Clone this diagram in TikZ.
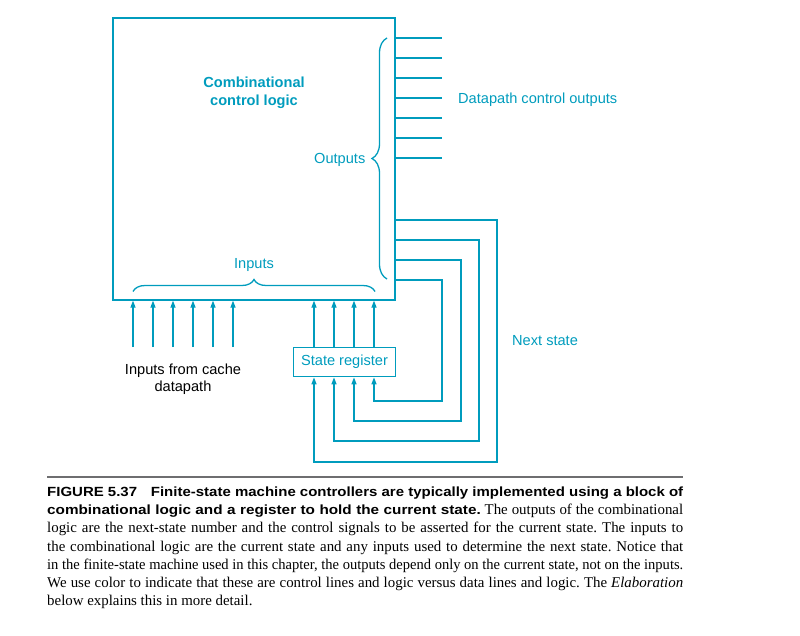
\documentclass[tikz,border=0pt]{standalone}
\usepackage{fontspec}
\usepackage{graphicx}
\setmainfont{Liberation Serif}
\newfontfamily\dsans{Liberation Sans}
\newfontfamily\hdfont[FakeStretch=1.15]{Liberation Sans}
\usetikzlibrary{decorations.pathreplacing,arrows.meta}
\definecolor{ctl}{RGB}{0,156,189}
\definecolor{rulegray}{RGB}{110,110,112}
\frenchspacing
\newsavebox\jlbox
\newcommand\jl[1]{\sbox\jlbox{#1}\ifdim\wd\jlbox>636pt\relax\resizebox{636pt}{\height}{\usebox\jlbox}\else\makebox[636pt][s]{#1}\fi}
\newcommand\hd{\hdfont\bfseries\fontsize{13.3}{16}\selectfont}
\tikzset{
  ln/.style={draw=ctl, line width=1.3pt},
  arr/.style={ln, -{Triangle[length=7pt,width=5pt]}},
  lab/.style={font=\dsans\fontsize{14.6}{17}\selectfont, text=ctl, inner sep=0pt},
  blk/.style={font=\dsans\fontsize{14.6}{17}\selectfont, text=black, inner sep=0pt},
  brc/.style={ln, decorate},
  capline/.style={anchor=base west, inner sep=0pt, font=\fontsize{14.9}{18}\selectfont},
}
\begin{document}
\begin{tikzpicture}[x=1pt,y=-1pt]
\useasboundingbox (0,0) rectangle (800,636);
% main block
\node[ln, minimum width=282pt, minimum height=282pt, inner sep=0pt] (logic) at (254,159) {};
\node[lab, font=\dsans\bfseries\fontsize{14.6}{17}\selectfont, anchor=base] (t1) at (254,88) {Combinational};
\node[lab, font=\dsans\bfseries\fontsize{14.6}{17}\selectfont, anchor=base] (t2) at (254,106) {control logic};
% state register
\node[ln, lab, minimum width=102pt, minimum height=29.4pt] (reg) at (344.5,362) {State register};
% inputs from datapath
\foreach \x [count=\i] in {133,153,173,193,213,233} {
  \coordinate (in\i) at (\x,347);
  \draw[arr] (in\i) -- (in\i |- logic.south);
}
% state register to logic
\foreach \x [count=\i] in {314,334,354,374} {
  \coordinate (c\i) at (\x,0);
  \draw[arr] (c\i |- reg.north) -- (c\i |- logic.south);
}
% next state loops
\foreach \y/\r/\b [count=\i] in {220/497/462, 240/479/441, 260/461/421, 280/442/401} {
  \coordinate (n\i) at (395,\y);
  \draw[arr] (n\i) -| (\r,\b) -| (c\i |- reg.south);
}
% datapath control outputs
\foreach \i in {0,...,6} {
  \coordinate (o\i) at (395,{38+20*\i});
  \draw[ln] (o\i) -- ++(47,0);
}
% braces
\draw[brc, decoration={brace, amplitude=15pt}] (387,279) -- (387,38);
\draw[brc, decoration={brace, amplitude=12pt}] (133,291.5) -- (375,291.5);
% labels
\node[lab, anchor=base east] (outl) at (365.5,163.5) {Outputs};
\node[lab, anchor=base] (inl) at (254,269) {Inputs};
\node[lab, anchor=base west] (dcl) at (458,104) {Datapath control outputs};
\node[lab, anchor=base west] (nsl) at (512,345) {Next state};
\node[blk, anchor=base] (ifc1) at (183,374) {Inputs from cache};
\node[blk, anchor=base] (ifc2) at (183,391) {datapath};
% caption
\coordinate (rl) at (47,477);
\coordinate (rr) at (683,477);
\draw[draw=rulegray, line width=2pt] (rl) -- (rr);
\node[capline] (cap1) at (47,496.5) {\jl{\hd FIGURE 5.37\hspace{14pt}Finite-state machine controllers are typically implemented using a block of}};
\node[capline] (cap2) at (47,514.7) {\jl{{\hd combinational logic and a register to hold the current state.} The outputs of the combinational}};
\node[capline] (cap3) at (47,532.9) {\jl{logic are the next-state number and the control signals to be asserted for the current state. The inputs to}};
\node[capline] (cap4) at (47,551.1) {\jl{the combinational logic are the current state and any inputs used to determine the next state. Notice that}};
\node[capline] (cap5) at (47,569.3) {\jl{in the finite-state machine used in this chapter, the outputs depend only on the current state, not on the inputs.}};
\node[capline] (cap6) at (47,587.5) {\jl{We use color to indicate that these are control lines and logic versus data lines and logic. The \textit{Elaboration}}};
\node[capline] (cap7) at (47,605.7) {below explains this in more detail.};
\end{tikzpicture}
\end{document}
